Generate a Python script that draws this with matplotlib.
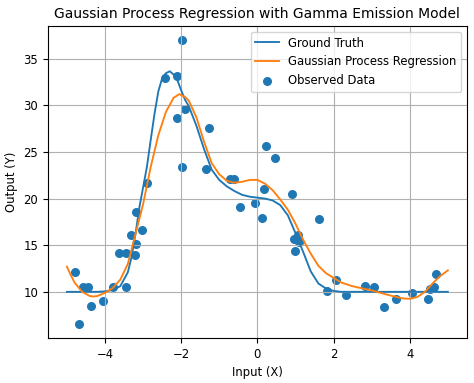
import numpy as np
import matplotlib
matplotlib.use('Agg')
from matplotlib import pyplot as plt

# ground truth curve
gt_x = [-5.0, -4.2, -4.0, -3.8, -3.6, -3.4, -3.3, -3.2, -3.1, -3.0, -2.9, -2.8, -2.7, -2.6,
        -2.5, -2.4, -2.3, -2.2, -2.1, -2.0, -1.9, -1.8, -1.6, -1.4, -1.2, -1.0, -0.8, -0.6,
        -0.4, -0.2, 0.0, 0.2, 0.4, 0.6, 0.8, 1.0, 1.2, 1.4, 1.6, 1.8, 2.0, 2.2, 2.6, 5.0]
gt_y = [10.0, 10.0, 10.05, 10.2, 10.6, 12.1, 13.8, 16.2, 19.0, 21.2, 23.4, 26.3, 29.1, 31.5,
        32.9, 33.45, 33.65, 33.3, 32.7, 31.6, 30.6, 29.9, 27.8, 25.3, 23.1, 22.0, 21.3, 20.8,
        20.4, 20.2, 20.1, 20.0, 19.8, 19.3, 18.2, 16.3, 14.3, 12.2, 10.9, 10.35, 10.1, 10.0,
        10.0, 10.0]

# GP mean prediction
gp_x = [-5.0, -4.9, -4.8, -4.6, -4.4, -4.3, -4.2, -4.0, -3.8, -3.6, -3.4, -3.2, -3.0, -2.8,
        -2.6, -2.4, -2.2, -2.05, -1.9, -1.8, -1.6, -1.4, -1.2, -1.0, -0.8, -0.6, -0.4, -0.2,
        0.0, 0.2, 0.4, 0.6, 0.8, 1.0, 1.2, 1.4, 1.6, 1.8, 2.0, 2.2, 2.5, 3.0, 3.4, 3.8, 4.0,
        4.2, 4.4, 4.6, 4.8, 5.0]
gp_y = [12.7, 11.8, 11.0, 10.0, 9.55, 9.5, 9.55, 9.9, 10.4, 11.3, 13.0, 16.2, 19.4, 23.4,
        26.8, 29.3, 30.8, 31.2, 30.9, 30.5, 28.7, 26.1, 23.8, 22.6, 21.9, 21.7, 21.8, 22.0,
        22.0, 21.6, 20.9, 19.9, 18.8, 17.3, 15.6, 14.1, 12.8, 12.0, 11.5, 11.0, 10.6, 10.15,
        9.7, 9.3, 9.25, 9.45, 10.0, 10.9, 11.7, 12.3]

# observed data
obs_x = [-4.80, -4.68, -4.57, -4.44, -4.36, -4.04, -3.79, -3.63, -3.46, -3.46, -3.32, -3.21,
         -3.18, -3.18, -3.02, -2.90, -2.43, -2.10, -2.10, -1.97, -1.97, -1.90, -1.35, -1.28,
         -0.71, -0.62, -0.45, -0.06, 0.11, 0.18, 0.23, 0.46, 0.91, 0.95, 0.99, 1.06, 1.09,
         1.61, 1.83, 2.07, 2.32, 2.82, 3.07, 3.32, 3.64, 4.07, 4.47, 4.53, 4.64, 4.68]
obs_y = [12.08, 6.55, 10.5, 10.5, 8.5, 9.06, 10.57, 14.17, 14.17, 10.5, 16.14, 13.95,
         15.14, 18.58, 16.68, 21.7, 32.92, 33.1, 28.6, 36.98, 23.4, 29.6, 23.22, 27.6,
         22.14, 22.07, 19.1, 19.48, 17.87, 21.07, 25.66, 24.3, 20.49, 15.68, 14.35, 16.14, 15.3,
         17.76, 10.04, 11.29, 9.68, 10.65, 10.47, 8.35, 9.21, 9.86, 9.25, 10.29, 10.5, 11.9]

# the reference looks like a default chart shrunk a bit
plt.rcParams['font.size'] = 8.4
plt.rcParams['lines.linewidth'] = 1.35
plt.rcParams['axes.linewidth'] = 0.8

fig = plt.figure(figsize=(4.74, 3.83), dpi=100)
plt.plot(gt_x, gt_y, label='Ground Truth')
plt.plot(gp_x, gp_y, label='Gaussian Process Regression')
plt.scatter(obs_x, obs_y, s=30, label='Observed Data')
plt.title('Gaussian Process Regression with Gamma Emission Model', fontsize=10.0)
plt.xlabel('Input (X)')
plt.ylabel('Output (Y)')
plt.legend(loc='upper right')
plt.grid(True)
plt.subplots_adjust(left=0.101, right=0.985, top=0.932, bottom=0.117)
plt.savefig('out.png', dpi=100)
